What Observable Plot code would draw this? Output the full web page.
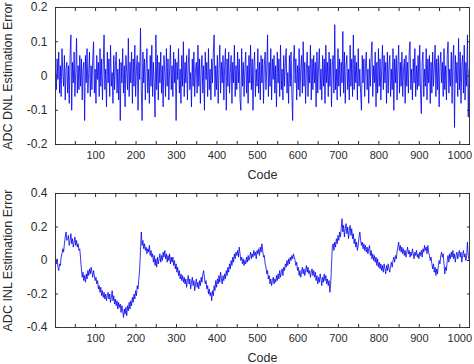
<!DOCTYPE html>
<html><head><meta charset="utf-8">
<script src="https://cdn.jsdelivr.net/npm/d3@7"></script>
<script src="https://cdn.jsdelivr.net/npm/@observablehq/plot@0.6"></script>
<style>
body{margin:0;background:#fff;font-family:"Liberation Sans",Arial,sans-serif;}
#chart{width:474px;height:364px;overflow:hidden;}
#chart svg{display:block;}
</style>
</head><body><div id="chart"></div>
<script>
// ADC output codes sampled (every other code, 1..1023)
const codes = d3.range(1, 1024, 2);

// DNL estimation error
const dnlValues = [
0.02,-0.04,0.05,-0.01,0.07,-0.05,0.03,-0.06,0.08,0.01,-0.03,0.06,-0.07,0.02,0.04,-0.05,
0.03,-0.08,0.06,0.12,-0.10,0.04,-0.02,0.07,-0.06,0.01,0.11,-0.05,0.03,-0.04,0.06,-0.03,
0.05,-0.07,0.02,0.04,-0.13,0.06,-0.02,0.08,-0.05,0.01,0.07,-0.06,0.03,-0.04,0.05,0.10,
-0.05,0.02,-0.08,0.06,-0.01,0.04,-0.06,0.08,-0.03,0.05,-0.07,0.03,0.12,-0.04,0.02,-0.09,
0.07,-0.02,0.05,-0.06,0.09,-0.03,0.01,-0.08,0.06,-0.04,0.03,0.07,-0.05,0.02,-0.07,0.05,
-0.13,0.04,-0.02,0.08,-0.05,0.03,-0.09,0.06,0.01,-0.04,0.11,-0.06,0.04,-0.02,0.07,-0.08,
0.05,-0.03,0.09,-0.06,0.02,0.06,-0.10,0.04,-0.01,0.14,-0.04,-0.13,0.07,-0.02,0.05,-0.07,
0.03,0.08,-0.05,0.02,-0.08,0.06,-0.03,0.09,-0.06,0.04,-0.02,-0.12,0.12,-0.04,0.06,-0.07,
0.04,-0.02,0.07,-0.05,0.03,-0.09,0.06,0.01,-0.06,0.08,-0.03,0.05,-0.07,0.02,0.09,-0.04,
0.03,-0.06,0.07,-0.02,0.05,-0.13,0.04,-0.01,0.08,-0.05,0.02,-0.08,0.06,-0.03,0.10,-0.06,
0.04,-0.02,0.06,-0.07,0.03,0.08,-0.04,0.01,-0.09,0.05,-0.03,0.07,-0.06,0.02,0.04,-0.05,
0.09,-0.03,0.05,-0.08,0.02,0.06,-0.05,0.03,-0.10,0.07,-0.01,0.04,-0.06,0.08,-0.04,0.02,
-0.07,0.05,-0.02,0.07,0.12,-0.06,0.03,-0.04,0.06,-0.08,0.02,0.09,-0.05,0.04,-0.02,0.06,
-0.07,0.03,0.08,-0.10,0.05,-0.03,0.07,-0.05,0.01,0.06,-0.08,0.04,-0.02,0.09,-0.06,0.03,
-0.04,0.07,-0.02,0.05,-0.07,-0.10,0.08,-0.03,0.04,-0.06,0.02,0.07,-0.05,0.03,-0.08,0.06,
-0.02,0.09,-0.04,0.05,-0.10,0.03,0.07,-0.06,0.02,-0.03,0.08,-0.05,0.04,-0.07,0.06,-0.02,
0.05,-0.08,0.03,0.07,-0.04,0.02,0.12,-0.06,0.04,-0.03,0.08,-0.07,0.05,-0.01,0.06,-0.05,
0.03,-0.09,0.07,-0.02,0.05,-0.06,0.09,-0.04,0.02,-0.07,0.06,-0.03,0.04,0.08,-0.05,0.01,
-0.08,0.06,-0.03,0.07,-0.05,-0.13,0.04,0.09,-0.02,0.05,-0.07,0.03,-0.04,0.08,-0.06,0.02,
0.06,-0.05,0.10,-0.03,0.04,-0.08,0.02,0.07,-0.06,0.03,-0.02,0.09,-0.07,0.05,-0.04,0.06,
-0.02,0.04,-0.09,0.07,-0.05,0.03,0.08,-0.04,0.02,-0.07,0.06,-0.03,0.05,-0.08,0.09,-0.02,
0.04,-0.06,0.07,-0.03,0.05,-0.09,0.03,0.06,-0.05,0.15,-0.04,0.02,-0.07,0.08,-0.03,0.05,
-0.06,0.04,-0.02,0.13,-0.05,0.07,-0.08,0.03,0.06,-0.04,0.02,-0.07,0.09,-0.03,0.05,-0.06,
0.12,-0.04,0.06,-0.02,0.04,-0.07,0.08,-0.03,0.02,-0.05,-0.10,0.06,-0.02,0.05,-0.06,0.03,
0.07,-0.04,0.02,-0.08,0.05,-0.03,0.06,0.10,-0.06,0.03,-0.02,0.07,-0.09,0.04,-0.05,0.08,
-0.03,0.05,-0.07,0.02,0.09,-0.04,0.06,-0.02,0.04,-0.08,0.07,-0.05,0.03,0.06,-0.06,0.02,
-0.04,0.08,-0.10,0.05,-0.02,0.06,-0.07,0.03,0.09,-0.05,0.04,-0.03,0.07,-0.06,0.02,0.05,
-0.08,0.06,-0.03,0.04,-0.05,0.07,0.10,-0.04,0.02,-0.07,0.05,-0.02,0.08,-0.06,0.03,-0.04,
0.06,-0.03,0.09,-0.05,-0.11,0.04,0.07,-0.06,0.02,-0.03,0.08,-0.07,0.05,-0.02,0.06,-0.08,
0.04,-0.05,0.07,-0.03,0.02,0.09,-0.06,0.05,-0.04,0.06,-0.09,0.03,0.07,-0.02,0.04,-0.06,
0.08,-0.04,0.03,-0.07,0.06,0.10,-0.05,0.02,-0.03,0.07,-0.08,0.05,0.09,-0.15,0.06,-0.02,
0.04,-0.06,0.11,-0.04,0.07,-0.08,0.03,0.06,-0.05,0.09,-0.07,0.04,-0.03,0.12,-0.12,0.02
];

// INL estimation error
const inlValues = [
0.00,-0.02,0.01,-0.04,-0.06,-0.02,-0.03,0.02,0.04,0.07,0.05,0.10,0.14,0.17,0.12,0.13,
0.15,0.09,0.12,0.16,0.10,0.13,0.08,0.11,0.14,0.09,0.12,0.08,0.10,0.06,0.07,0.01,
-0.05,-0.10,-0.07,-0.12,-0.09,-0.13,-0.08,-0.11,-0.06,-0.09,-0.05,-0.08,-0.04,-0.07,-0.10,-0.06,
-0.09,-0.12,-0.10,-0.14,-0.12,-0.17,-0.15,-0.19,-0.16,-0.21,-0.18,-0.22,-0.19,-0.23,-0.20,-0.24,
-0.21,-0.19,-0.23,-0.20,-0.25,-0.22,-0.18,-0.24,-0.21,-0.26,-0.23,-0.27,-0.24,-0.29,-0.25,-0.28,
-0.26,-0.31,-0.27,-0.30,-0.34,-0.29,-0.32,-0.28,-0.33,-0.27,-0.30,-0.25,-0.29,-0.24,-0.27,-0.22,
-0.25,-0.20,-0.23,-0.18,-0.21,-0.15,-0.17,-0.11,-0.05,0.06,0.17,0.09,0.12,0.07,0.10,0.06,
0.08,0.04,0.07,0.05,0.09,0.03,0.06,0.02,0.04,-0.01,0.03,-0.03,0.01,-0.04,0.02,-0.02,
0.01,0.04,-0.01,0.03,0.00,0.05,0.02,0.06,0.01,0.04,-0.01,0.03,0.00,0.04,-0.02,0.02,
-0.01,0.02,-0.03,0.00,-0.05,-0.02,-0.07,-0.04,-0.09,-0.06,-0.11,-0.08,-0.12,-0.09,-0.13,-0.10,
-0.14,-0.11,-0.16,-0.12,-0.09,-0.14,-0.11,-0.17,-0.13,-0.10,-0.15,-0.12,-0.18,-0.14,-0.11,-0.16,
-0.13,-0.17,-0.12,-0.15,-0.10,-0.13,-0.08,-0.06,-0.10,-0.14,-0.12,-0.17,-0.15,-0.20,-0.17,-0.21,
-0.19,-0.24,-0.18,-0.21,-0.15,-0.18,-0.12,-0.16,-0.11,-0.14,-0.09,-0.13,-0.07,-0.11,-0.14,-0.09,
-0.12,-0.08,-0.11,-0.06,-0.09,-0.04,-0.07,-0.02,-0.05,0.00,-0.03,0.02,-0.01,0.04,0.01,0.05,
0.03,0.06,0.02,0.08,0.04,0.00,0.02,-0.02,0.01,-0.03,0.00,-0.02,0.02,-0.01,0.03,0.00,
0.02,0.05,0.01,0.04,0.02,0.06,0.03,0.05,0.01,0.06,0.04,0.07,0.03,0.08,0.05,0.10,
0.06,0.02,0.03,-0.02,-0.04,-0.08,-0.06,-0.11,-0.09,-0.14,-0.11,-0.15,-0.12,-0.10,-0.14,-0.11,
-0.13,-0.09,-0.12,-0.08,-0.11,-0.06,-0.10,-0.07,-0.05,-0.09,-0.04,-0.06,-0.02,-0.04,0.00,-0.03,
0.01,-0.02,0.02,0.00,0.03,0.01,0.04,0.02,0.00,-0.03,-0.01,-0.06,-0.04,-0.09,-0.06,-0.10,
-0.07,-0.04,-0.08,-0.05,-0.09,-0.06,-0.03,-0.07,-0.04,-0.08,-0.06,-0.10,-0.07,-0.05,-0.09,-0.06,
-0.10,-0.07,-0.12,-0.09,-0.14,-0.10,-0.13,-0.08,-0.11,-0.15,-0.10,-0.13,-0.08,-0.12,-0.09,-0.14,
-0.11,-0.15,-0.12,-0.19,-0.14,-0.03,0.08,0.10,0.06,0.11,0.08,0.13,0.10,0.15,0.12,0.17,
0.14,0.19,0.25,0.17,0.21,0.14,0.19,0.22,0.16,0.20,0.13,0.18,0.21,0.15,0.19,0.13,
0.16,0.10,0.13,0.08,0.11,0.06,0.09,0.14,0.17,0.12,0.09,0.11,0.07,0.10,0.06,0.09,
0.05,0.08,0.04,0.07,0.09,0.03,0.06,0.01,0.04,0.00,0.03,-0.01,0.02,-0.03,0.01,-0.04,
-0.01,-0.05,-0.02,-0.06,-0.03,-0.07,-0.02,-0.05,-0.08,-0.03,-0.06,-0.02,-0.05,-0.07,-0.03,-0.01,
-0.04,0.00,0.02,-0.01,0.03,0.01,0.05,0.08,0.11,0.06,0.09,0.05,0.08,0.04,0.07,0.03,
0.06,0.02,0.05,0.08,0.04,0.06,0.02,0.05,0.03,0.07,0.04,0.01,0.05,0.03,0.06,0.02,
0.04,0.01,0.05,0.03,0.06,0.02,0.07,0.05,0.09,0.06,0.08,0.04,0.09,0.05,0.03,0.00,
0.02,-0.02,-0.05,-0.02,-0.07,-0.04,-0.09,-0.05,-0.08,-0.03,0.00,-0.02,0.03,0.05,0.02,0.04,
-0.02,-0.08,-0.04,-0.06,0.00,0.03,-0.01,0.04,0.01,0.05,0.02,0.06,0.01,0.04,-0.01,0.03,
0.05,0.01,0.04,0.06,0.02,0.05,-0.01,0.03,0.06,0.02,0.04,0.00,0.03,0.11,0.03,0.00
];

const xTicks = [50,100,150,200,250,300,350,400,450,500,550,600,650,700,750,800,850,900,950,1000];
const xTickLabels = [100,200,300,400,500,600,700,800,900,1000];
const dnlTicks = [-0.2,-0.1,0,0.1,0.2];
const inlTicks = [-0.4,-0.2,0,0.2,0.4];
const xLabel = "Code";
const dnlLabel = "ADC DNL Estimation Error";
const inlLabel = "ADC INL Estimation Error";

function panel(values, yTicks, yLabel, mt, mb) {
  const data = codes.map((c, i) => ({code: c, v: values[i]}));
  return Plot.plot({
    width: 474, height: 182,
    marginLeft: 55, marginRight: 5, marginTop: mt, marginBottom: mb,
    style: {fontFamily: '"Liberation Sans", Arial, sans-serif', fontSize: "11px", color: "#2a2a2a", background: "white", overflow: "visible"},
    x: {domain: [1, 1024]},
    y: {domain: [yTicks[0], yTicks[yTicks.length - 1]]},
    marks: [
      Plot.line(data, {x: "code", y: "v", stroke: "#0000ee", strokeWidth: 0.8}),
      Plot.frame({stroke: "#3a3a3a"}),
      Plot.axisX(xTicks, {anchor: "bottom", tickSize: -3, tickPadding: 10, label: null, fontSize: 11,
        tickFormat: d => xTickLabels.includes(d) ? String(d) : ""}),
      Plot.axisX(xTicks, {anchor: "top", tickSize: -3, label: null, tickFormat: () => ""}),
      Plot.axisY(yTicks, {anchor: "left", tickSize: -3, tickPadding: 11, label: null, fontSize: 12,
        tickFormat: d => String(d)}),
      Plot.axisY(yTicks, {anchor: "right", tickSize: -3, label: null, tickFormat: () => ""}),
      Plot.text([xLabel], {text: d => d, frameAnchor: "bottom", textAnchor: "middle", lineAnchor: "top", dy: 26, fontSize: 12.5}),
      Plot.text([yLabel], {text: d => d, frameAnchor: "left", textAnchor: "middle", rotate: -90, dx: -47.5, lineAnchor: "middle", fontSize: 12.5})
    ]
  });
}

const root = document.getElementById("chart");
root.appendChild(panel(dnlValues, dnlTicks, dnlLabel, 7, 38));
root.appendChild(panel(inlValues, inlTicks, inlLabel, 11, 37));
</script>
</body></html>
